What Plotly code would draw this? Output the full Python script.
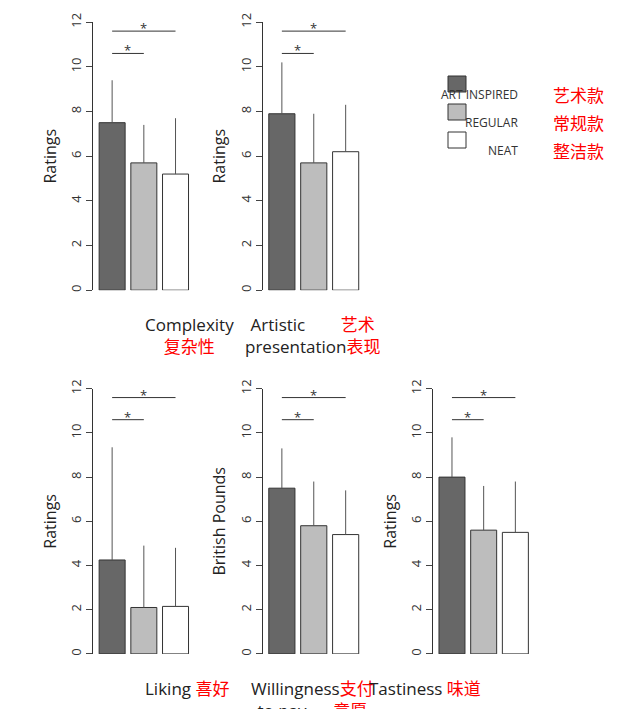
import plotly.graph_objects as go

groups = ["ART INSPIRED", "REGULAR", "NEAT"]
groups_cn = ["艺术款", "常规款", "整洁款"]
colors = ["#676767", "#bdbdbd", "#ffffff"]

panel_titles = ["Complexity<br><span style='color:red'>复杂性</span>",
                "Artistic<span style='color:white'>xxxx</span><span style='color:red'>艺术</span><br>presentation<span style='color:red'>表现</span>",
                "Liking <span style='color:red'>喜好</span>",
                "Willingness<span style='color:red'>支付</span><br>to pay<span style='color:white'>xxx</span><span style='color:red'>意愿</span>",
                "Tastiness <span style='color:red'>味道</span>"]
y_titles = ["Ratings", "Ratings", "Ratings", "British Pounds", "Ratings"]
means = [[7.5, 5.7, 5.2], [7.9, 5.7, 6.2], [4.25, 2.1, 2.15], [7.5, 5.8, 5.4], [8.0, 5.6, 5.5]]
upper = [[9.4, 7.4, 7.7], [10.2, 7.9, 8.3], [9.35, 4.9, 4.8], [9.3, 7.8, 7.4], [9.8, 7.6, 7.8]]

xdom = [(0.133, 0.289), (0.398, 0.555), (0.133, 0.289), (0.398, 0.555), (0.664, 0.82)]
ydom = [(0.602, 0.98), (0.602, 0.98), (0.089, 0.463), (0.089, 0.463), (0.089, 0.463)]

fig = go.Figure()
x = [1, 2, 3]
for i in range(5):
    ax = "" if i == 0 else str(i + 1)
    fig.add_trace(go.Bar(
        x=x, y=means[i], width=0.82, xaxis="x" + ax, yaxis="y" + ax,
        marker=dict(color=colors, line=dict(color="#333", width=1)),
        error_y=dict(type="data", symmetric=False,
                     array=[u - m for u, m in zip(upper[i], means[i])],
                     arrayminus=[0, 0, 0], color="#555", thickness=1, width=0),
        showlegend=False))
    fig.update_layout(**{
        "xaxis" + ax: dict(domain=xdom[i], range=[0.4, 3.55], visible=False, anchor="y" + ax,
                           automargin=False),
        "yaxis" + ax: dict(domain=ydom[i], range=[0, 12], anchor="x" + ax, automargin=False,
                           tickvals=[0, 2, 4, 6, 8, 10, 12], tickangle=-90,
                           showline=True, linecolor="#333", ticks="outside", ticklen=6,
                           showgrid=False, zeroline=False, tickfont=dict(size=13, color="#333"),
                           title=dict(text=y_titles[i], font=dict(size=16, color="#222"), standoff=6)),
    })
    xr, yr = "x" + ax, "y" + ax
    for x1, yv in [(2, 10.6), (3, 11.6)]:
        fig.add_shape(type="line", xref=xr, yref=yr, x0=1, x1=x1, y0=yv, y1=yv,
                      line=dict(color="#333", width=1))
        fig.add_annotation(xref=xr, yref=yr, x=(1 + x1) / 2, y=yv, text="*",
                           showarrow=False, yanchor="bottom", yshift=-8, font=dict(size=13, color="#333"))
    fig.add_annotation(xref="paper", yref="paper", x=(xdom[i][0] + xdom[i][1]) / 2,
                       y=ydom[i][0] - 0.03, text=panel_titles[i], showarrow=False,
                       yanchor="top", font=dict(size=17, color="#222"))

# legend
for k in range(3):
    y0 = 1 - (68 + 28 * k) / 709
    fig.add_shape(type="rect", xref="paper", yref="paper", x0=440 / 640, x1=458 / 640,
                  y0=y0 - 16 / 709, y1=y0, fillcolor=colors[k], line=dict(color="#333", width=1))
    fig.add_annotation(xref="paper", yref="paper", x=512 / 640, y=y0 - 8 / 709, text=groups[k],
                       showarrow=False, font=dict(size=12, color="#333"))
    fig.add_annotation(xref="paper", yref="paper", x=598 / 640, y=y0 - 6 / 709, text=groups_cn[k],
                       showarrow=False, font=dict(size=17, color="red"))

fig.update_layout(width=640, height=709, margin=dict(l=0, r=0, t=0, b=0, autoexpand=False),
                  plot_bgcolor="white", paper_bgcolor="white",
                  font=dict(family="Open Sans, Noto Sans CJK SC"))
fig.write_html("out.html")
